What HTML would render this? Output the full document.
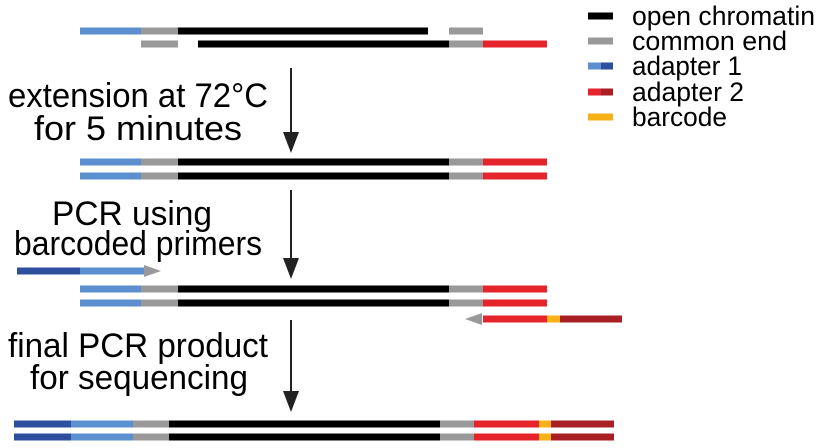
<!DOCTYPE html>
<html><head><meta charset="utf-8"><style>body{margin:0;background:#fff}svg{display:block}</style></head><body>
<svg width="836" height="448" xmlns="http://www.w3.org/2000/svg" font-family="Liberation Sans, Arial, sans-serif">
<g stroke-width="7" fill="none">
<line x1="80" y1="31" x2="141" y2="31" stroke="#5b8fcf"/>
<line x1="141" y1="31" x2="178" y2="31" stroke="#999"/>
<line x1="178" y1="31" x2="428" y2="31" stroke="#000"/>
<line x1="449" y1="31" x2="483" y2="31" stroke="#999"/>
<line x1="141" y1="44" x2="178" y2="44" stroke="#999"/>
<line x1="198" y1="44" x2="449" y2="44" stroke="#000"/>
<line x1="449" y1="44" x2="483" y2="44" stroke="#999"/>
<line x1="483" y1="44" x2="547" y2="44" stroke="#e5232b"/>
<g id="ds">
<line x1="80" y1="162" x2="141" y2="162" stroke="#5b8fcf"/>
<line x1="141" y1="162" x2="178" y2="162" stroke="#999"/>
<line x1="178" y1="162" x2="449" y2="162" stroke="#000"/>
<line x1="449" y1="162" x2="483" y2="162" stroke="#999"/>
<line x1="483" y1="162" x2="547" y2="162" stroke="#e5232b"/>
<line x1="80" y1="176" x2="141" y2="176" stroke="#5b8fcf"/>
<line x1="141" y1="176" x2="178" y2="176" stroke="#999"/>
<line x1="178" y1="176" x2="449" y2="176" stroke="#000"/>
<line x1="449" y1="176" x2="483" y2="176" stroke="#999"/>
<line x1="483" y1="176" x2="547" y2="176" stroke="#e5232b"/>
</g>
<use href="#ds" transform="translate(0,127)"/>
<line x1="17" y1="271" x2="80" y2="271" stroke="#2d4f9e"/>
<line x1="80" y1="271" x2="146" y2="271" stroke="#5b8fcf"/>
<line x1="483" y1="319" x2="547" y2="319" stroke="#e5232b"/>
<line x1="547" y1="319" x2="560" y2="319" stroke="#f7b21a"/>
<line x1="560" y1="319" x2="622" y2="319" stroke="#a81f24"/>
<g id="fin">
<line x1="14" y1="424" x2="71" y2="424" stroke="#2d4f9e"/>
<line x1="71" y1="424" x2="133" y2="424" stroke="#5b8fcf"/>
<line x1="133" y1="424" x2="169" y2="424" stroke="#999"/>
<line x1="169" y1="424" x2="440" y2="424" stroke="#000"/>
<line x1="440" y1="424" x2="474" y2="424" stroke="#999"/>
<line x1="474" y1="424" x2="539" y2="424" stroke="#e5232b"/>
<line x1="539" y1="424" x2="551" y2="424" stroke="#f7b21a"/>
<line x1="551" y1="424" x2="614" y2="424" stroke="#a81f24"/>
</g>
<use href="#fin" transform="translate(0,13)"/>
<line x1="588" y1="16" x2="613" y2="16" stroke="#000"/>
<line x1="588" y1="41" x2="613" y2="41" stroke="#999"/>
<line x1="588" y1="66" x2="601" y2="66" stroke="#5b8fcf"/>
<line x1="601" y1="66" x2="613" y2="66" stroke="#2d4f9e"/>
<line x1="588" y1="92" x2="601" y2="92" stroke="#e5232b"/>
<line x1="601" y1="92" x2="613" y2="92" stroke="#a81f24"/>
<line x1="588" y1="117" x2="613" y2="117" stroke="#f7b21a"/>
</g>
<polygon points="144,265 161,271 144,277" fill="#999"/>
<polygon points="482,313 465,319 482,325" fill="#999"/>
<g stroke="#222" stroke-width="2">
<line x1="291" y1="68" x2="291" y2="135"/>
<line x1="291" y1="190" x2="291" y2="262"/>
<line x1="291" y1="320" x2="291" y2="395"/>
</g>
<g fill="#222">
<polygon points="283,132 299,132 291,153"/>
<polygon points="283,258 299,258 291,279"/>
<polygon points="283,391 299,391 291,412"/>
</g>
<g font-size="34" fill="#000" text-anchor="middle">
<text x="138" y="107" textLength="260" lengthAdjust="spacingAndGlyphs">extension at 72°C</text>
<text x="138" y="140" textLength="208" lengthAdjust="spacingAndGlyphs">for 5 minutes</text>
<text x="132" y="225" textLength="160" lengthAdjust="spacingAndGlyphs">PCR using</text>
<text x="138" y="255" textLength="248" lengthAdjust="spacingAndGlyphs">barcoded primers</text>
<text x="138" y="357" textLength="260" lengthAdjust="spacingAndGlyphs">final PCR product</text>
<text x="139" y="389" textLength="218" lengthAdjust="spacingAndGlyphs">for sequencing</text>
</g>
<g font-size="27" fill="#000">
<text x="632" y="25" textLength="183" lengthAdjust="spacingAndGlyphs">open chromatin</text>
<text x="632" y="50" textLength="155" lengthAdjust="spacingAndGlyphs">common end</text>
<text x="632" y="75" textLength="110" lengthAdjust="spacingAndGlyphs">adapter 1</text>
<text x="632" y="101" textLength="112" lengthAdjust="spacingAndGlyphs">adapter 2</text>
<text x="632" y="126" textLength="95" lengthAdjust="spacingAndGlyphs">barcode</text>
</g>
</svg>
</body></html>
